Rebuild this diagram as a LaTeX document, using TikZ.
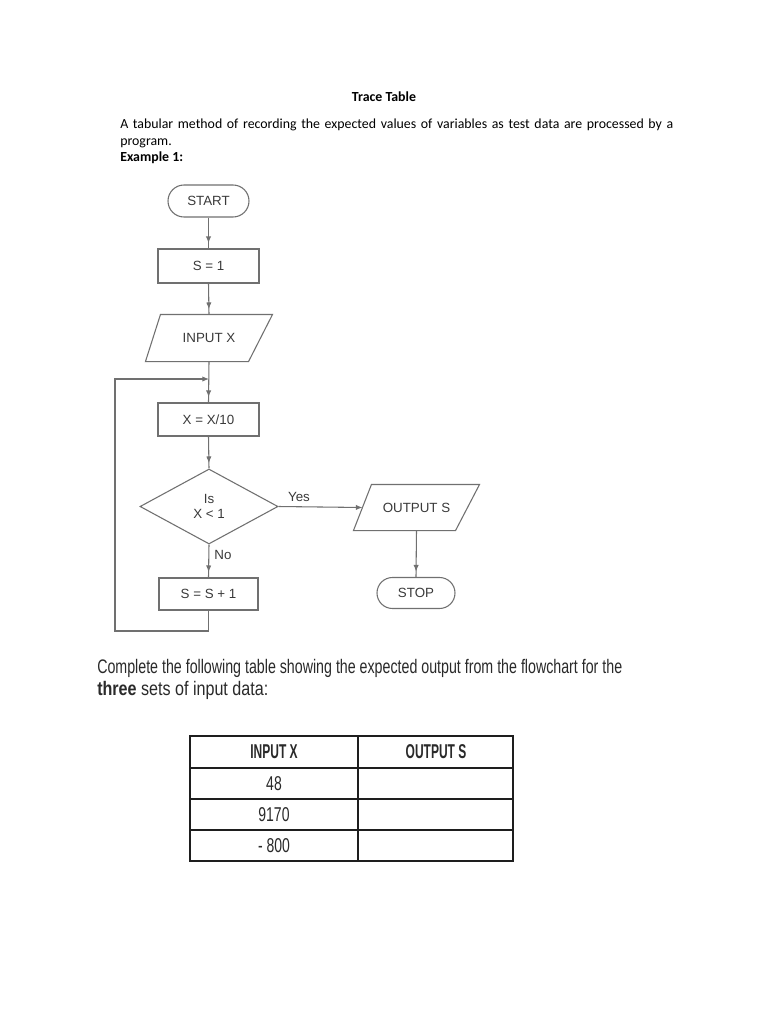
\documentclass[tikz,border=0pt]{standalone}
\usepackage{fontspec}
\setmainfont{Carlito}
\newfontfamily\flowfont{Liberation Sans}
\usepackage{graphicx}
\usetikzlibrary{shapes.geometric,shapes.misc,arrows.meta,decorations.markings}
\definecolor{lineg}{HTML}{707070}
\definecolor{textg}{HTML}{3A3A3A}
\definecolor{qtext}{HTML}{2A2A2A}
\definecolor{tline}{HTML}{1E1E1E}
\begin{document}
\begin{tikzpicture}[x=0.75pt,y=-0.75pt,
  flow/.style={draw=lineg, line width=0.8pt, font=\flowfont\fontsize{10}{11.5}\selectfont, text=textg, inner sep=0pt},
  term/.style={flow, rounded rectangle},
  proc/.style={flow, rectangle},
  io/.style={flow, draw=none, rectangle},
  dec/.style={flow, diamond, aspect=1.84, align=center},
  conn/.style={draw=lineg, line width=0.8pt},
  tipnear/.style={conn, postaction={decorate}, decoration={markings, mark=at position -4pt with {\arrow[lineg]{Latex[length=5pt,width=4pt]}}}},
  tipend/.style={conn, -{Latex[length=5pt,width=4pt]}},
  lbl/.style={font=\flowfont\fontsize{10}{11.5}\selectfont, text=textg, inner sep=0pt},
  body/.style={font=\fontsize{10.4}{12.5}\selectfont, inner sep=0pt, text=black},
  quest/.style={font=\flowfont\fontsize{14.7}{17}\selectfont, text=qtext, inner sep=0pt, anchor=base west},
  tcell/.style={font=\flowfont\fontsize{15}{17}\selectfont, text=qtext, inner sep=0pt},
  tl/.style={draw=tline, line width=1.3pt},
]
\useasboundingbox[fill=white] (0,0) rectangle (768,1024);

% header text
\node[body, anchor=base] (title) at (384,102) {\bfseries Trace Table};
\node[body, anchor=base west] (p1) at (120,128) {\makebox[414.75pt][s]{A tabular method of recording the expected values of variables as test data are processed by a}};
\node[body, anchor=base west] (p2) at (120,145) {program.};
\node[body, anchor=base west] (ex) at (120,161) {\bfseries Example 1:};

% flowchart nodes
\node[term, minimum width=60.75pt, minimum height=24pt] (start) at (208.5,201) {START};
\node[proc, minimum width=75.75pt, minimum height=25.5pt] (s1) at (208.5,266) {S = 1};
\node[io, minimum width=94.5pt, minimum height=34.5pt] (inp) at (209,338) {INPUT X};
\draw[conn] ([xshift=11.25pt]inp.north west) -- (inp.north east) -- ([xshift=-18pt]inp.south east) -- (inp.south west) -- cycle;
\node[proc, minimum width=75.75pt, minimum height=24.75pt] (x10) at (208.5,419.5) {X = X/10};
\node[dec, minimum width=103.5pt, minimum height=56.25pt] (dec) at (209,506.5) {Is\\X < 1};
\node[proc, minimum width=74.25pt, minimum height=24pt] (s3) at (208.5,594) {S = S + 1};
\node[io, minimum width=93.75pt, minimum height=33.75pt] (out) at (416.5,507.5) {OUTPUT S};
\draw[conn] ([xshift=13.5pt]out.north west) -- (out.north east) -- ([xshift=-18pt]out.south east) -- (out.south west) -- cycle;
\node[term, minimum width=58.5pt, minimum height=23.25pt] (stop) at (416,593) {STOP};

\node[lbl] (yes) at (299,497) {Yes};
\node[lbl] (no) at (223,555) {No};

\coordinate (join) at (209,379);
\coordinate (loopbl) at (115,631);

% connectors
\draw[tipnear] (start.south) -- (s1.north);
\draw[tipnear] (s1.south) -- (inp.north);
\draw[tipnear] (inp.south) -- (x10.north);
\draw[tipnear] (x10.south) -- (dec.north);
\draw[tipnear] (dec.south) -- (s3.north);
\draw[tipend] (dec.east) -- ([xshift=6.75pt]out.west);
\draw[tipnear] (out.south) -- (stop.north);
\draw[tipend] (s3.south) |- (loopbl) |- (join);

% question text
\node[quest] (q1) at (97,673) {\resizebox{393.75pt}{\height}{Complete the following table showing the expected output from the flowchart for the}};
\node[quest] (q2) at (97,695) {\resizebox{128.25pt}{\height}{\textbf{three} sets of input data:}};

% table
\draw[tl] (190,736) rectangle (513,861);
\draw[tl] (358,736) -- (358,861);
\draw[tl] (190,768) -- (513,768);
\draw[tl] (190,799) -- (513,799);
\draw[tl] (190,830) -- (513,830);

\node[tcell] (h1) at (274,752) {\scalebox{0.6}[1]{\bfseries INPUT X}};
\node[tcell] (h2) at (436,752) {\scalebox{0.6}[1]{\bfseries OUTPUT S}};
\node[tcell] (r1) at (274,784) {\scalebox{0.7}[1]{48}};
\node[tcell] (r2) at (274,815) {\scalebox{0.7}[1]{9170}};
\node[tcell] (r3) at (274,846) {\scalebox{0.7}[1]{- 800}};
\end{tikzpicture}
\end{document}
